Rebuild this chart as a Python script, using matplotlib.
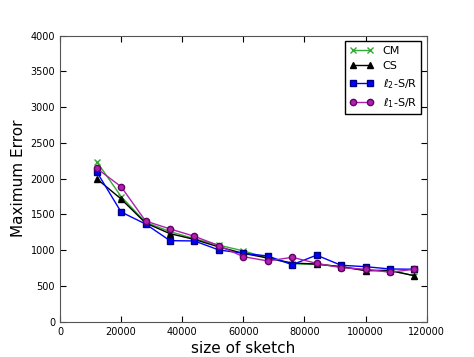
import matplotlib.pyplot as plt

# sketch sizes
sizes = [12000, 20000, 28000, 36000, 44000, 52000, 60000,
         68000, 76000, 84000, 92000, 100000, 108000, 116000]

cm = [2240, 1750, 1390, 1260, 1160, 1070, 990, 890, 810, 800, 770, 720, 720, 640]
cs = [2000, 1716, 1380, 1231, 1150, 1045, 955, 890, 820, 806, 769, 713, 714, 643]
l2_sr = [2098, 1534, 1366, 1133, 1129, 1003, 956, 919, 797, 930, 789, 769, 737, 733]
l1_sr = [2145, 1888, 1408, 1297, 1194, 1063, 909, 849, 900, 816, 755, 733, 691, 733]

fig = plt.figure(figsize=(4.74, 3.57), dpi=100)
ax = fig.add_axes([0.1266, 0.099, 0.7734, 0.801])

ax.plot(sizes, cm, color='#33aa33', marker='x', markersize=4.5, lw=1, label='CM')
ax.plot(sizes, cs, color='black', marker='^', markersize=4.5, lw=1, label='CS')
ax.plot(sizes, l2_sr, color='blue', marker='s', markersize=4.5, lw=1,
        markeredgecolor='#000080', label=r'$\ell_2$-S/R')
ax.plot(sizes, l1_sr, color='#b020b0', marker='o', markersize=4.5, lw=1,
        markeredgecolor='#600060', label=r'$\ell_1$-S/R')

ax.set_xlim(0, 120000)
ax.set_ylim(0, 4000)
ax.set_xticks(range(0, 120001, 20000))
ax.set_yticks(range(0, 4001, 500))
ax.tick_params(direction='in', top=True, right=True, labelsize=7, length=4)
for s in ax.spines.values():
    s.set_color('#555555')

ax.set_xlabel('size of sketch', fontsize=11, labelpad=3)
ax.set_ylabel('Maximum Error', fontsize=11, labelpad=3)

leg = ax.legend(loc='upper right', numpoints=2, fontsize=8, fancybox=False,
                framealpha=1, edgecolor='black', handlelength=2.2,
                borderaxespad=0.5)
leg.get_frame().set_linewidth(1)

fig.savefig('out.png', dpi=100)
